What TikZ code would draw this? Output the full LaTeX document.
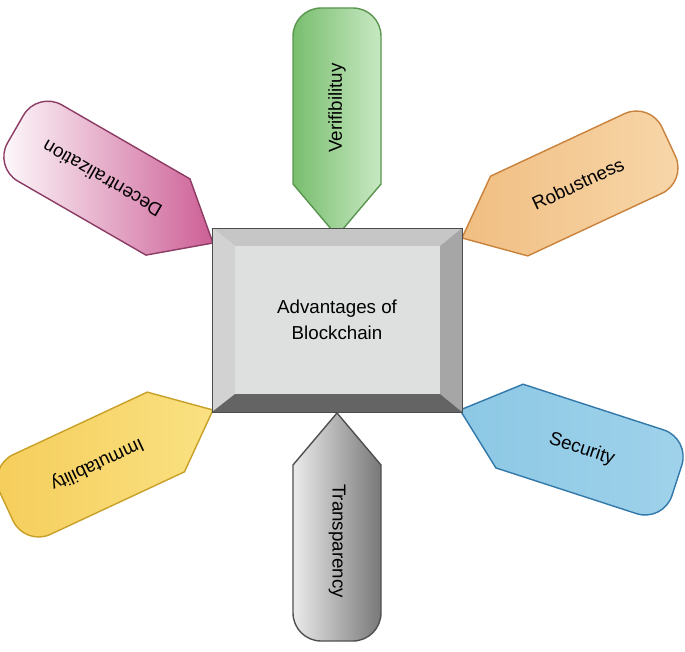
\documentclass[tikz,border=0pt]{standalone}
\usepackage{fontspec}
\setmainfont{Liberation Sans}
\definecolor{grA}{RGB}{200,232,195}\definecolor{grB}{RGB}{120,190,110}\definecolor{grD}{RGB}{90,150,80}
\definecolor{orA}{RGB}{240,190,130}\definecolor{orB}{RGB}{248,215,170}\definecolor{orD}{RGB}{200,130,60}
\definecolor{blA}{RGB}{140,200,228}\definecolor{blB}{RGB}{160,210,235}\definecolor{blD}{RGB}{50,120,170}
\definecolor{gyA}{RGB}{120,120,120}\definecolor{gyB}{RGB}{235,235,235}\definecolor{gyD}{RGB}{80,80,80}
\definecolor{yeA}{RGB}{245,205,90}\definecolor{yeB}{RGB}{250,225,130}\definecolor{yeD}{RGB}{200,160,40}
\definecolor{piB}{RGB}{205,95,150}\definecolor{piD}{RGB}{140,60,100}
\definecolor{face}{RGB}{222,224,224}\definecolor{botb}{RGB}{100,100,100}
\begin{document}
\begin{tikzpicture}[x=0.03cm,y=-0.03cm,
  lbl/.style={font=\fontsize{16}{19}\selectfont, text=black}]
\useasboundingbox (0,0) rectangle (685,651);
\newcommand\petal[7]{%
  \begin{scope}[shift={(#2,#3)},rotate=#4]
    \shade[#5,draw=#6,line width=1.2pt]
      (0,0) -- (52,-44) [rounded corners=24pt] -- (228,-44) -- (228,44) [sharp corners] -- (52,44) -- cycle;
    \node[lbl,rotate=#4] (#1) at (128,0) {#7};
  \end{scope}}
\petal{ver}{337}{236}{90}{left color=grB, right color=grA}{grD}{Verifibilituy}
\petal{rob}{462}{238}{25}{left color=orA, right color=orB}{orD}{Robustness}
\petal{sec}{460}{410}{-18}{left color=blA, right color=blB}{blD}{Security}
\petal{tra}{337}{413}{-90}{left color=gyB, right color=gyA}{gyD}{Transparency}
\petal{imm}{213}{410}{205}{left color=yeA, right color=yeB}{yeD}{Immutability}
\petal{dec}{213}{243}{150}{left color=white, right color=piB}{piD}{Decentralization}
% central bevelled box
\fill[gray!45] (212,228) -- (462,228) -- (440,246) -- (235,246) -- cycle;
\fill[gray!35] (212,228) -- (235,246) -- (235,394) -- (212,412) -- cycle;
\fill[gray!70] (462,228) -- (462,412) -- (440,394) -- (440,246) -- cycle;
\fill[botb] (212,412) -- (235,394) -- (440,394) -- (462,412) -- cycle;
\fill[face] (235,246) rectangle (440,394);
\draw[gray!60!black,line width=0.6pt] (212,228) rectangle (462,412);
\node[lbl,align=center,font=\fontsize{16}{22}\selectfont] (center) at (337,320) {Advantages of\\Blockchain};
\end{tikzpicture}
\end{document}
